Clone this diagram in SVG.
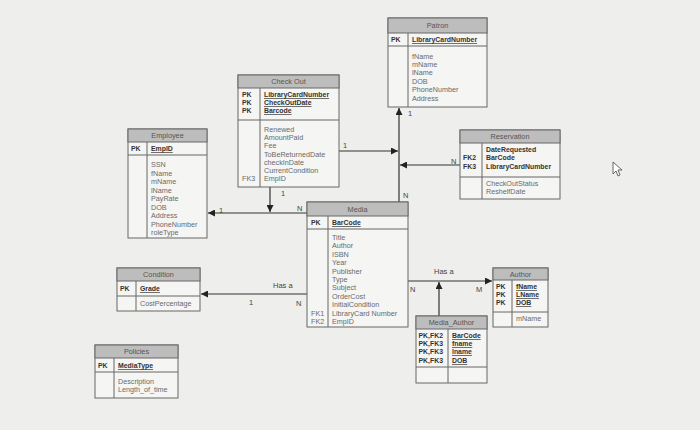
<svg xmlns="http://www.w3.org/2000/svg" width="700" height="430" viewBox="0 0 700 430">
<defs>
<marker id="ah" viewBox="0 0 10 10" refX="10" refY="5" markerWidth="7" markerHeight="7" markerUnits="userSpaceOnUse" orient="auto">
<path d="M0,0 L10,5 L0,10 z" fill="#222"/>
</marker>
<style>
.bg{fill:#eeeeec}
.box{fill:#f5f5f3;stroke:#666;stroke-width:1}
.hdr{fill:#bdbdbd;stroke:#666;stroke-width:1}
.ln{stroke:#666;stroke-width:1;fill:none}
.t{font-family:"Liberation Sans",Arial,sans-serif;font-size:7.2px;fill:#6a6a6a}
.h{font-family:"Liberation Sans",Arial,sans-serif;font-size:7.3px;fill:#555;text-anchor:middle}
.k{font-family:"Liberation Sans",Arial,sans-serif;font-size:6.9px;fill:#333;font-weight:bold}
.u{text-decoration:underline}
.c{stroke:#333;stroke-width:1.2;fill:none;marker-end:url(#ah)}
.lbl{font-family:"Liberation Sans",Arial,sans-serif;font-size:7.5px;fill:#444}
</style>
</defs>
<rect class="bg" x="0" y="0" width="700" height="430"/>

<g id="connectors">
<path class="c" d="M399,202 L399,108"/>
<path class="c" d="M339,151 L398,151"/>
<path class="c" d="M460,165 L400,165"/>
<path class="c" d="M270,187 L270,212"/>
<path class="c" d="M307,213 L208,213"/>
<path class="c" d="M307,294 L201,294"/>
<path class="c" d="M408,281 L492,281"/>
<path class="c" d="M439,316 L439,282"/>
<text class="lbl" x="343" y="148">1</text>
<text class="lbl" x="408" y="116">1</text>
<text class="lbl" x="403" y="198">N</text>
<text class="lbl" x="451" y="164">N</text>
<text class="lbl" x="281" y="196">1</text>
<text class="lbl" x="219" y="213">1</text>
<text class="lbl" x="297" y="211">N</text>
<text class="lbl" x="273" y="288">Has a</text>
<text class="lbl" x="249" y="305">1</text>
<text class="lbl" x="296" y="306">N</text>
<text class="lbl" x="434" y="274">Has a</text>
<text class="lbl" x="410" y="292">N</text>
<text class="lbl" x="476" y="292">M</text>
</g>

<g id="patron">
<rect class="box" x="388" y="18" width="99" height="89"/>
<rect class="hdr" x="388" y="18" width="99" height="15"/>
<line class="ln" x1="388" y1="46" x2="487" y2="46"/>
<line class="ln" x1="408" y1="33" x2="408" y2="107"/>
<text class="h" x="437.5" y="28">Patron</text>
<text class="k" x="391" y="42">PK</text>
<text class="k u" x="412" y="42">LibraryCardNumber</text>
<text class="t" x="412" y="59">fName</text>
<text class="t" x="412" y="67">mName</text>
<text class="t" x="412" y="75">lName</text>
<text class="t" x="412" y="84">DOB</text>
<text class="t" x="412" y="92">PhoneNumber</text>
<text class="t" x="412" y="101">Address</text>
</g>

<g id="checkout">
<rect class="box" x="238" y="75" width="101" height="112"/>
<rect class="hdr" x="238" y="75" width="101" height="13"/>
<line class="ln" x1="238" y1="120" x2="339" y2="120"/>
<line class="ln" x1="260" y1="88" x2="260" y2="187"/>
<text class="h" x="288.5" y="84">Check Out</text>
<text class="k" x="242" y="97">PK</text>
<text class="k" x="242" y="105">PK</text>
<text class="k" x="242" y="113">PK</text>
<text class="k u" x="264" y="97">LibraryCardNumber</text>
<text class="k u" x="264" y="105">CheckOutDate</text>
<text class="k u" x="264" y="113">Barcode</text>
<text class="t" x="264" y="132">Renewed</text>
<text class="t" x="264" y="140">AmountPaid</text>
<text class="t" x="264" y="148">Fee</text>
<text class="t" x="264" y="157">ToBeReturnedDate</text>
<text class="t" x="264" y="165">checkInDate</text>
<text class="t" x="264" y="173">CurrentCondition</text>
<text class="t" x="264" y="181">EmpID</text>
<text class="t" x="242" y="181">FK3</text>
</g>

<g id="employee">
<rect class="box" x="128" y="129" width="79" height="109"/>
<rect class="hdr" x="128" y="129" width="79" height="13"/>
<line class="ln" x1="128" y1="155" x2="207" y2="155"/>
<line class="ln" x1="147" y1="142" x2="147" y2="238"/>
<text class="h" x="167.5" y="138">Employee</text>
<text class="k" x="131" y="151">PK</text>
<text class="k u" x="151" y="151">EmpID</text>
<text class="t" x="151" y="167">SSN</text>
<text class="t" x="151" y="175.5">fName</text>
<text class="t" x="151" y="184">mName</text>
<text class="t" x="151" y="192.5">lName</text>
<text class="t" x="151" y="201">PayRate</text>
<text class="t" x="151" y="209.5">DOB</text>
<text class="t" x="151" y="218">Address</text>
<text class="t" x="151" y="226.5">PhoneNumber</text>
<text class="t" x="151" y="235">roleType</text>
</g>

<g id="reservation">
<rect class="box" x="460" y="130" width="100" height="69"/>
<rect class="hdr" x="460" y="130" width="100" height="13"/>
<line class="ln" x1="460" y1="177" x2="560" y2="177"/>
<line class="ln" x1="482" y1="143" x2="482" y2="199"/>
<text class="h" x="510" y="139">Reservation</text>
<text class="k" x="486" y="152">DateRequested</text>
<text class="k" x="486" y="160">BarCode</text>
<text class="k" x="486" y="169">LibraryCardNumber</text>
<text class="k" x="463" y="160">FK2</text>
<text class="k" x="463" y="169">FK3</text>
<text class="t" x="486" y="186">CheckOutStatus</text>
<text class="t" x="486" y="194">ReshelfDate</text>
</g>

<g id="media">
<rect class="box" x="307" y="202" width="101" height="125"/>
<rect class="hdr" x="307" y="202" width="101" height="14"/>
<line class="ln" x1="307" y1="229" x2="408" y2="229"/>
<line class="ln" x1="328" y1="216" x2="328" y2="327"/>
<text class="h" x="357.5" y="211.5">Media</text>
<text class="k" x="311" y="225">PK</text>
<text class="k u" x="332" y="225">BarCode</text>
<text class="t" x="332" y="240">Title</text>
<text class="t" x="332" y="248.4">Author</text>
<text class="t" x="332" y="256.8">ISBN</text>
<text class="t" x="332" y="265.2">Year</text>
<text class="t" x="332" y="273.6">Publisher</text>
<text class="t" x="332" y="282">Type</text>
<text class="t" x="332" y="290.4">Subject</text>
<text class="t" x="332" y="298.8">OrderCost</text>
<text class="t" x="332" y="307.2">InitialCondition</text>
<text class="t" x="332" y="315.6">LibraryCard Number</text>
<text class="t" x="332" y="324">EmpID</text>
<text class="t" x="311" y="315.6">FK1</text>
<text class="t" x="311" y="324">FK2</text>
</g>

<g id="author">
<rect class="box" x="493" y="268" width="55" height="59"/>
<rect class="hdr" x="493" y="268" width="55" height="12"/>
<line class="ln" x1="493" y1="312" x2="548" y2="312"/>
<line class="ln" x1="512" y1="280" x2="512" y2="327"/>
<text class="h" x="520.5" y="276.5">Author</text>
<text class="k" x="496" y="289">PK</text>
<text class="k" x="496" y="297">PK</text>
<text class="k" x="496" y="305">PK</text>
<text class="k u" x="516" y="289">fName</text>
<text class="k u" x="516" y="297">LName</text>
<text class="k u" x="516" y="305">DOB</text>
<text class="t" x="516" y="321">mName</text>
</g>

<g id="media_author">
<rect class="box" x="416" y="316" width="71" height="67"/>
<rect class="hdr" x="416" y="316" width="71" height="13"/>
<line class="ln" x1="416" y1="367" x2="487" y2="367"/>
<line class="ln" x1="448" y1="329" x2="448" y2="383"/>
<text class="h" x="451.5" y="325">Media_Author</text>
<text class="k" x="418.5" y="338">PK,FK2</text>
<text class="k" x="418.5" y="346">PK,FK3</text>
<text class="k" x="418.5" y="354">PK,FK3</text>
<text class="k" x="418.5" y="363">PK,FK3</text>
<text class="k u" x="452" y="338">BarCode</text>
<text class="k u" x="452" y="346">fname</text>
<text class="k u" x="452" y="354">lname</text>
<text class="k u" x="452" y="363">DOB</text>
</g>

<g id="condition">
<rect class="box" x="117" y="268" width="83" height="43"/>
<rect class="hdr" x="117" y="268" width="83" height="13"/>
<line class="ln" x1="117" y1="296" x2="200" y2="296"/>
<line class="ln" x1="136" y1="281" x2="136" y2="311"/>
<text class="h" x="158.5" y="277">Condition</text>
<text class="k" x="120" y="291">PK</text>
<text class="k u" x="140" y="291">Grade</text>
<text class="t" x="140" y="306">CostPercentage</text>
</g>

<g id="policies">
<rect class="box" x="95" y="345" width="83" height="53"/>
<rect class="hdr" x="95" y="345" width="83" height="13"/>
<line class="ln" x1="95" y1="372" x2="178" y2="372"/>
<line class="ln" x1="114" y1="358" x2="114" y2="398"/>
<text class="h" x="136.5" y="354">Policies</text>
<text class="k" x="98" y="368">PK</text>
<text class="k u" x="118" y="368">MediaType</text>
<text class="t" x="118" y="384">Description</text>
<text class="t" x="118" y="392">Length_of_time</text>
</g>

<path d="M613,162 L613,174 L616,171 L618,176 L620,175 L618,170 L622,170 Z" fill="#fff" stroke="#444" stroke-width="0.8"/>
</svg>
